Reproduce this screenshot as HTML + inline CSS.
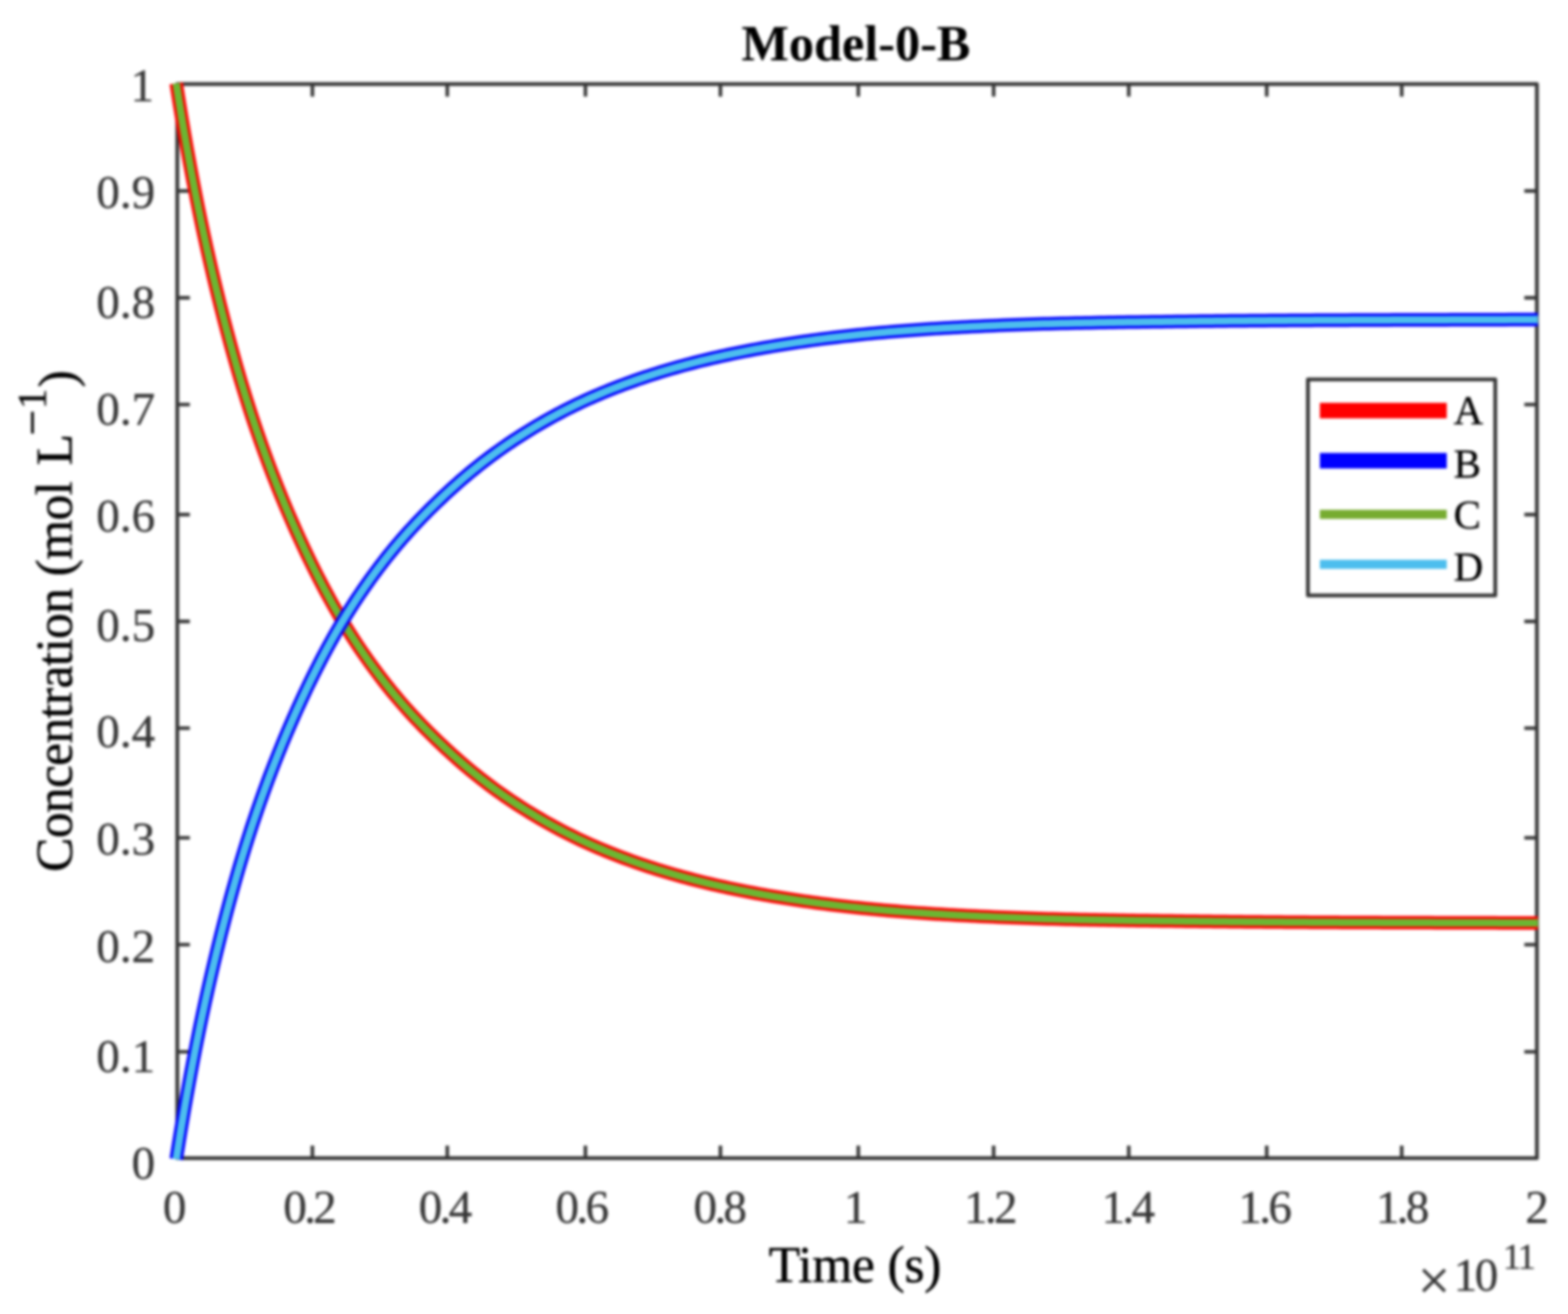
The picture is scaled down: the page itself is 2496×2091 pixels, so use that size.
<!DOCTYPE html>
<html lang="en"><head><meta charset="utf-8"><title>Model-0-B</title>
<style>html,body{margin:0;padding:0;background:#fff}svg{display:block}text{font-family:"Liberation Serif", "DejaVu Serif", serif}</style></head><body>
<svg xmlns="http://www.w3.org/2000/svg" width="2496" height="2091" viewBox="0 0 2496 2091">
<rect width="2496" height="2091" fill="#fff"/>
<defs><filter id="soft" x="0" y="0" width="2496" height="2091" filterUnits="userSpaceOnUse" color-interpolation-filters="sRGB"><feGaussianBlur stdDeviation="2.0"/></filter></defs>
<g id="chart" filter="url(#soft)">
<g fill="none" stroke="#363636" stroke-linejoin="round">
<rect x="282.20" y="133.70" width="2164.30" height="1709.30" stroke-width="6.00"/>
<path d="M497.30,1843.00V1823.00M497.30,133.70V153.70M712.00,1843.00V1823.00M712.00,133.70V153.70M931.90,1843.00V1823.00M931.90,133.70V153.70M1146.80,1843.00V1823.00M1146.80,133.70V153.70M1366.30,1843.00V1823.00M1366.30,133.70V153.70M1581.70,1843.00V1823.00M1581.70,133.70V153.70M1796.80,1843.00V1823.00M1796.80,133.70V153.70M2016.40,1843.00V1823.00M2016.40,133.70V153.70M2231.30,1843.00V1823.00M2231.30,133.70V153.70M282.20,303.90H302.20M2446.50,303.90H2426.50M282.20,473.90H302.20M2446.50,473.90H2426.50M282.20,643.70H302.20M2446.50,643.70H2426.50M282.20,818.90H302.20M2446.50,818.90H2426.50M282.20,988.90H302.20M2446.50,988.90H2426.50M282.20,1158.70H302.20M2446.50,1158.70H2426.50M282.20,1333.30H302.20M2446.50,1333.30H2426.50M282.20,1503.30H302.20M2446.50,1503.30H2426.50M282.20,1673.70H302.20M2446.50,1673.70H2426.50" stroke-width="5.60" stroke-linecap="butt"/>
</g>
<g fill="none" stroke-linejoin="round" stroke-linecap="butt">
<path d="M280.50,132.60 L280.65,133.56 L280.95,135.50 L281.37,138.13 L281.87,141.35 L282.46,145.07 L283.13,149.25 L283.86,153.85 L284.66,158.83 L285.53,164.17 L286.45,169.83 L287.43,175.80 L288.46,182.06 L289.55,188.59 L290.69,195.37 L291.88,202.39 L293.12,209.63 L294.40,217.08 L295.74,224.72 L297.11,232.54 L298.53,240.53 L300.00,248.68 L301.50,256.97 L303.05,265.41 L304.64,273.97 L306.27,282.65 L307.94,291.44 L309.65,300.33 L311.39,309.31 L313.18,318.37 L315.00,327.49 L316.86,336.68 L318.75,345.91 L320.68,355.20 L322.65,364.52 L324.65,373.89 L326.69,383.29 L328.76,392.72 L330.86,402.18 L333.00,411.66 L335.17,421.16 L337.37,430.68 L339.60,440.21 L341.87,449.76 L344.17,459.33 L346.50,468.91 L348.87,478.50 L351.26,488.10 L353.68,497.71 L356.14,507.31 L358.62,516.92 L361.14,526.51 L363.68,536.09 L366.26,545.66 L368.86,555.20 L371.49,564.71 L374.15,574.20 L376.84,583.65 L379.56,593.05 L382.31,602.42 L385.08,611.73 L387.89,620.99 L390.72,630.18 L393.58,639.31 L396.46,648.37 L399.37,657.38 L402.31,666.33 L405.28,675.22 L408.27,684.06 L411.29,692.85 L414.34,701.58 L417.41,710.25 L420.51,718.88 L423.63,727.44 L426.78,735.95 L429.96,744.41 L433.16,752.81 L436.39,761.15 L439.64,769.45 L442.91,777.69 L446.22,785.87 L449.54,794.01 L452.90,802.09 L456.27,810.12 L459.67,818.10 L463.10,826.04 L466.55,833.93 L470.02,841.78 L473.52,849.58 L477.04,857.34 L480.58,865.04 L484.15,872.70 L487.74,880.31 L491.36,887.86 L495.00,895.36 L498.66,902.80 L502.35,910.19 L506.06,917.51 L509.79,924.78 L513.54,931.98 L517.32,939.12 L521.12,946.19 L524.95,953.20 L528.79,960.13 L532.66,966.99 L536.55,973.78 L540.46,980.50 L544.40,987.13 L548.36,993.68 L552.33,1000.16 L556.34,1006.56 L560.36,1012.88 L564.40,1019.13 L568.47,1025.31 L572.56,1031.42 L576.67,1037.46 L580.80,1043.44 L584.95,1049.35 L589.13,1055.20 L593.32,1060.99 L597.54,1066.73 L601.78,1072.41 L606.04,1078.04 L610.32,1083.61 L614.62,1089.11 L618.94,1094.54 L623.28,1099.90 L627.64,1105.20 L632.03,1110.44 L636.43,1115.61 L640.86,1120.72 L645.30,1125.77 L649.77,1130.76 L654.25,1135.70 L658.76,1140.58 L663.29,1145.41 L667.83,1150.19 L672.40,1154.93 L676.99,1159.61 L681.59,1164.25 L686.22,1168.86 L690.87,1173.42 L695.53,1177.94 L700.22,1182.43 L704.93,1186.89 L709.65,1191.32 L714.40,1195.71 L719.16,1200.07 L723.95,1204.37 L728.75,1208.63 L733.57,1212.84 L738.42,1217.00 L743.28,1221.12 L748.16,1225.19 L753.06,1229.21 L757.98,1233.18 L762.92,1237.11 L767.87,1240.99 L772.85,1244.83 L777.85,1248.62 L782.86,1252.36 L787.89,1256.05 L792.94,1259.70 L798.01,1263.30 L803.10,1266.86 L808.21,1270.37 L813.34,1273.83 L818.48,1277.25 L823.65,1280.62 L828.83,1283.95 L834.03,1287.24 L839.25,1290.50 L844.49,1293.72 L849.74,1296.90 L855.01,1300.04 L860.31,1303.14 L865.62,1306.20 L870.95,1309.23 L876.29,1312.21 L881.66,1315.15 L887.04,1318.05 L892.44,1320.91 L897.86,1323.73 L903.29,1326.51 L908.75,1329.24 L914.22,1331.93 L919.71,1334.57 L925.22,1337.17 L930.74,1339.73 L936.28,1342.24 L941.85,1344.71 L947.42,1347.14 L953.02,1349.54 L958.63,1351.90 L964.26,1354.23 L969.91,1356.52 L975.58,1358.77 L981.26,1360.99 L986.96,1363.17 L992.68,1365.32 L998.41,1367.43 L1004.16,1369.52 L1009.93,1371.56 L1015.72,1373.58 L1021.52,1375.56 L1027.34,1377.51 L1033.18,1379.43 L1039.03,1381.31 L1044.91,1383.17 L1050.79,1384.99 L1056.70,1386.78 L1062.62,1388.55 L1068.56,1390.28 L1074.52,1391.98 L1080.49,1393.66 L1086.48,1395.30 L1092.49,1396.92 L1098.51,1398.51 L1104.55,1400.07 L1110.61,1401.60 L1116.68,1403.11 L1122.77,1404.59 L1128.87,1406.04 L1135.00,1407.47 L1141.14,1408.87 L1147.29,1410.24 L1153.46,1411.59 L1159.65,1412.92 L1165.86,1414.22 L1172.08,1415.50 L1178.32,1416.76 L1184.57,1418.00 L1190.84,1419.21 L1197.13,1420.41 L1203.43,1421.58 L1209.75,1422.73 L1216.08,1423.86 L1222.43,1424.97 L1228.80,1426.05 L1235.18,1427.12 L1241.58,1428.17 L1248.00,1429.20 L1254.43,1430.20 L1260.88,1431.19 L1267.34,1432.16 L1273.82,1433.11 L1280.31,1434.05 L1286.82,1434.96 L1293.35,1435.85 L1299.89,1436.73 L1306.45,1437.59 L1313.02,1438.43 L1319.61,1439.25 L1326.22,1440.06 L1332.84,1440.84 L1339.48,1441.61 L1346.13,1442.37 L1352.80,1443.10 L1359.48,1443.82 L1366.18,1444.53 L1372.90,1445.21 L1379.63,1445.88 L1386.37,1446.53 L1393.13,1447.16 L1399.91,1447.77 L1406.70,1448.37 L1413.51,1448.96 L1420.33,1449.52 L1427.17,1450.07 L1434.02,1450.61 L1440.89,1451.13 L1447.78,1451.64 L1454.67,1452.13 L1461.59,1452.61 L1468.52,1453.08 L1475.46,1453.54 L1482.42,1453.98 L1489.40,1454.41 L1496.39,1454.83 L1503.40,1455.24 L1510.42,1455.64 L1517.45,1456.02 L1524.50,1456.40 L1531.57,1456.77 L1538.65,1457.13 L1545.74,1457.48 L1552.85,1457.82 L1559.98,1458.16 L1567.12,1458.49 L1574.28,1458.81 L1581.45,1459.12 L1588.63,1459.42 L1595.83,1459.72 L1603.05,1460.00 L1610.28,1460.28 L1617.52,1460.54 L1624.78,1460.80 L1632.05,1461.04 L1639.34,1461.28 L1646.64,1461.51 L1653.96,1461.73 L1661.29,1461.94 L1668.64,1462.14 L1676.00,1462.34 L1683.38,1462.53 L1690.77,1462.71 L1698.18,1462.89 L1705.60,1463.06 L1713.03,1463.22 L1720.48,1463.38 L1727.94,1463.53 L1735.42,1463.67 L1742.91,1463.82 L1750.42,1463.95 L1757.94,1464.08 L1765.48,1464.21 L1773.03,1464.33 L1780.59,1464.45 L1788.17,1464.57 L1795.76,1464.68 L1803.37,1464.79 L1810.99,1464.90 L1818.63,1465.01 L1826.28,1465.11 L1833.94,1465.21 L1841.62,1465.31 L1849.31,1465.41 L1857.02,1465.51 L1864.74,1465.60 L1872.47,1465.70 L1880.22,1465.79 L1887.99,1465.89 L1895.76,1465.99 L1903.56,1466.08 L1911.36,1466.18 L1919.18,1466.27 L1927.01,1466.36 L1934.86,1466.45 L1942.72,1466.53 L1950.60,1466.61 L1958.49,1466.69 L1966.39,1466.77 L1974.31,1466.84 L1982.24,1466.91 L1990.18,1466.98 L1998.14,1467.05 L2006.12,1467.11 L2014.10,1467.17 L2022.10,1467.23 L2030.12,1467.29 L2038.15,1467.35 L2046.19,1467.40 L2054.24,1467.45 L2062.31,1467.50 L2070.40,1467.55 L2078.49,1467.60 L2086.60,1467.64 L2094.73,1467.69 L2102.86,1467.73 L2111.02,1467.77 L2119.18,1467.81 L2127.36,1467.84 L2135.55,1467.88 L2143.76,1467.92 L2151.98,1467.95 L2160.21,1467.98 L2168.46,1468.02 L2176.72,1468.05 L2184.99,1468.08 L2193.28,1468.10 L2201.58,1468.13 L2209.89,1468.16 L2218.22,1468.19 L2226.56,1468.21 L2234.92,1468.24 L2243.28,1468.26 L2251.67,1468.29 L2260.06,1468.31 L2268.47,1468.33 L2276.89,1468.36 L2285.32,1468.38 L2293.77,1468.40 L2302.23,1468.42 L2310.71,1468.45 L2319.20,1468.47 L2327.70,1468.49 L2336.21,1468.51 L2344.74,1468.53 L2353.28,1468.55 L2361.83,1468.57 L2370.40,1468.60 L2378.98,1468.62 L2387.58,1468.64 L2396.18,1468.66 L2404.80,1468.68 L2413.44,1468.71 L2422.08,1468.73 L2430.74,1468.75 L2439.41,1468.78 L2448.10,1468.80" stroke="#ff0000" stroke-width="21.50"/>
<path d="M280.50,132.60 L280.65,133.56 L280.95,135.50 L281.37,138.13 L281.87,141.35 L282.46,145.07 L283.13,149.25 L283.86,153.85 L284.66,158.83 L285.53,164.17 L286.45,169.83 L287.43,175.80 L288.46,182.06 L289.55,188.59 L290.69,195.37 L291.88,202.39 L293.12,209.63 L294.40,217.08 L295.74,224.72 L297.11,232.54 L298.53,240.53 L300.00,248.68 L301.50,256.97 L303.05,265.41 L304.64,273.97 L306.27,282.65 L307.94,291.44 L309.65,300.33 L311.39,309.31 L313.18,318.37 L315.00,327.49 L316.86,336.68 L318.75,345.91 L320.68,355.20 L322.65,364.52 L324.65,373.89 L326.69,383.29 L328.76,392.72 L330.86,402.18 L333.00,411.66 L335.17,421.16 L337.37,430.68 L339.60,440.21 L341.87,449.76 L344.17,459.33 L346.50,468.91 L348.87,478.50 L351.26,488.10 L353.68,497.71 L356.14,507.31 L358.62,516.92 L361.14,526.51 L363.68,536.09 L366.26,545.66 L368.86,555.20 L371.49,564.71 L374.15,574.20 L376.84,583.65 L379.56,593.05 L382.31,602.42 L385.08,611.73 L387.89,620.99 L390.72,630.18 L393.58,639.31 L396.46,648.37 L399.37,657.38 L402.31,666.33 L405.28,675.22 L408.27,684.06 L411.29,692.85 L414.34,701.58 L417.41,710.25 L420.51,718.88 L423.63,727.44 L426.78,735.95 L429.96,744.41 L433.16,752.81 L436.39,761.15 L439.64,769.45 L442.91,777.69 L446.22,785.87 L449.54,794.01 L452.90,802.09 L456.27,810.12 L459.67,818.10 L463.10,826.04 L466.55,833.93 L470.02,841.78 L473.52,849.58 L477.04,857.34 L480.58,865.04 L484.15,872.70 L487.74,880.31 L491.36,887.86 L495.00,895.36 L498.66,902.80 L502.35,910.19 L506.06,917.51 L509.79,924.78 L513.54,931.98 L517.32,939.12 L521.12,946.19 L524.95,953.20 L528.79,960.13 L532.66,966.99 L536.55,973.78 L540.46,980.50 L544.40,987.13 L548.36,993.68 L552.33,1000.16 L556.34,1006.56 L560.36,1012.88 L564.40,1019.13 L568.47,1025.31 L572.56,1031.42 L576.67,1037.46 L580.80,1043.44 L584.95,1049.35 L589.13,1055.20 L593.32,1060.99 L597.54,1066.73 L601.78,1072.41 L606.04,1078.04 L610.32,1083.61 L614.62,1089.11 L618.94,1094.54 L623.28,1099.90 L627.64,1105.20 L632.03,1110.44 L636.43,1115.61 L640.86,1120.72 L645.30,1125.77 L649.77,1130.76 L654.25,1135.70 L658.76,1140.58 L663.29,1145.41 L667.83,1150.19 L672.40,1154.93 L676.99,1159.61 L681.59,1164.25 L686.22,1168.86 L690.87,1173.42 L695.53,1177.94 L700.22,1182.43 L704.93,1186.89 L709.65,1191.32 L714.40,1195.71 L719.16,1200.07 L723.95,1204.37 L728.75,1208.63 L733.57,1212.84 L738.42,1217.00 L743.28,1221.12 L748.16,1225.19 L753.06,1229.21 L757.98,1233.18 L762.92,1237.11 L767.87,1240.99 L772.85,1244.83 L777.85,1248.62 L782.86,1252.36 L787.89,1256.05 L792.94,1259.70 L798.01,1263.30 L803.10,1266.86 L808.21,1270.37 L813.34,1273.83 L818.48,1277.25 L823.65,1280.62 L828.83,1283.95 L834.03,1287.24 L839.25,1290.50 L844.49,1293.72 L849.74,1296.90 L855.01,1300.04 L860.31,1303.14 L865.62,1306.20 L870.95,1309.23 L876.29,1312.21 L881.66,1315.15 L887.04,1318.05 L892.44,1320.91 L897.86,1323.73 L903.29,1326.51 L908.75,1329.24 L914.22,1331.93 L919.71,1334.57 L925.22,1337.17 L930.74,1339.73 L936.28,1342.24 L941.85,1344.71 L947.42,1347.14 L953.02,1349.54 L958.63,1351.90 L964.26,1354.23 L969.91,1356.52 L975.58,1358.77 L981.26,1360.99 L986.96,1363.17 L992.68,1365.32 L998.41,1367.43 L1004.16,1369.52 L1009.93,1371.56 L1015.72,1373.58 L1021.52,1375.56 L1027.34,1377.51 L1033.18,1379.43 L1039.03,1381.31 L1044.91,1383.17 L1050.79,1384.99 L1056.70,1386.78 L1062.62,1388.55 L1068.56,1390.28 L1074.52,1391.98 L1080.49,1393.66 L1086.48,1395.30 L1092.49,1396.92 L1098.51,1398.51 L1104.55,1400.07 L1110.61,1401.60 L1116.68,1403.11 L1122.77,1404.59 L1128.87,1406.04 L1135.00,1407.47 L1141.14,1408.87 L1147.29,1410.24 L1153.46,1411.59 L1159.65,1412.92 L1165.86,1414.22 L1172.08,1415.50 L1178.32,1416.76 L1184.57,1418.00 L1190.84,1419.21 L1197.13,1420.41 L1203.43,1421.58 L1209.75,1422.73 L1216.08,1423.86 L1222.43,1424.97 L1228.80,1426.05 L1235.18,1427.12 L1241.58,1428.17 L1248.00,1429.20 L1254.43,1430.20 L1260.88,1431.19 L1267.34,1432.16 L1273.82,1433.11 L1280.31,1434.05 L1286.82,1434.96 L1293.35,1435.85 L1299.89,1436.73 L1306.45,1437.59 L1313.02,1438.43 L1319.61,1439.25 L1326.22,1440.06 L1332.84,1440.84 L1339.48,1441.61 L1346.13,1442.37 L1352.80,1443.10 L1359.48,1443.82 L1366.18,1444.53 L1372.90,1445.21 L1379.63,1445.88 L1386.37,1446.53 L1393.13,1447.16 L1399.91,1447.77 L1406.70,1448.37 L1413.51,1448.96 L1420.33,1449.52 L1427.17,1450.07 L1434.02,1450.61 L1440.89,1451.13 L1447.78,1451.64 L1454.67,1452.13 L1461.59,1452.61 L1468.52,1453.08 L1475.46,1453.54 L1482.42,1453.98 L1489.40,1454.41 L1496.39,1454.83 L1503.40,1455.24 L1510.42,1455.64 L1517.45,1456.02 L1524.50,1456.40 L1531.57,1456.77 L1538.65,1457.13 L1545.74,1457.48 L1552.85,1457.82 L1559.98,1458.16 L1567.12,1458.49 L1574.28,1458.81 L1581.45,1459.12 L1588.63,1459.42 L1595.83,1459.72 L1603.05,1460.00 L1610.28,1460.28 L1617.52,1460.54 L1624.78,1460.80 L1632.05,1461.04 L1639.34,1461.28 L1646.64,1461.51 L1653.96,1461.73 L1661.29,1461.94 L1668.64,1462.14 L1676.00,1462.34 L1683.38,1462.53 L1690.77,1462.71 L1698.18,1462.89 L1705.60,1463.06 L1713.03,1463.22 L1720.48,1463.38 L1727.94,1463.53 L1735.42,1463.67 L1742.91,1463.82 L1750.42,1463.95 L1757.94,1464.08 L1765.48,1464.21 L1773.03,1464.33 L1780.59,1464.45 L1788.17,1464.57 L1795.76,1464.68 L1803.37,1464.79 L1810.99,1464.90 L1818.63,1465.01 L1826.28,1465.11 L1833.94,1465.21 L1841.62,1465.31 L1849.31,1465.41 L1857.02,1465.51 L1864.74,1465.60 L1872.47,1465.70 L1880.22,1465.79 L1887.99,1465.89 L1895.76,1465.99 L1903.56,1466.08 L1911.36,1466.18 L1919.18,1466.27 L1927.01,1466.36 L1934.86,1466.45 L1942.72,1466.53 L1950.60,1466.61 L1958.49,1466.69 L1966.39,1466.77 L1974.31,1466.84 L1982.24,1466.91 L1990.18,1466.98 L1998.14,1467.05 L2006.12,1467.11 L2014.10,1467.17 L2022.10,1467.23 L2030.12,1467.29 L2038.15,1467.35 L2046.19,1467.40 L2054.24,1467.45 L2062.31,1467.50 L2070.40,1467.55 L2078.49,1467.60 L2086.60,1467.64 L2094.73,1467.69 L2102.86,1467.73 L2111.02,1467.77 L2119.18,1467.81 L2127.36,1467.84 L2135.55,1467.88 L2143.76,1467.92 L2151.98,1467.95 L2160.21,1467.98 L2168.46,1468.02 L2176.72,1468.05 L2184.99,1468.08 L2193.28,1468.10 L2201.58,1468.13 L2209.89,1468.16 L2218.22,1468.19 L2226.56,1468.21 L2234.92,1468.24 L2243.28,1468.26 L2251.67,1468.29 L2260.06,1468.31 L2268.47,1468.33 L2276.89,1468.36 L2285.32,1468.38 L2293.77,1468.40 L2302.23,1468.42 L2310.71,1468.45 L2319.20,1468.47 L2327.70,1468.49 L2336.21,1468.51 L2344.74,1468.53 L2353.28,1468.55 L2361.83,1468.57 L2370.40,1468.60 L2378.98,1468.62 L2387.58,1468.64 L2396.18,1468.66 L2404.80,1468.68 L2413.44,1468.71 L2422.08,1468.73 L2430.74,1468.75 L2439.41,1468.78 L2448.10,1468.80" stroke="#6cb632" stroke-width="12.00"/>
<path d="M280.50,1844.70 L280.65,1843.74 L280.95,1841.80 L281.37,1839.17 L281.87,1835.95 L282.46,1832.23 L283.13,1828.05 L283.86,1823.45 L284.66,1818.47 L285.53,1813.13 L286.45,1807.47 L287.43,1801.50 L288.46,1795.24 L289.55,1788.71 L290.69,1781.93 L291.88,1774.91 L293.12,1767.67 L294.40,1760.22 L295.74,1752.58 L297.11,1744.76 L298.53,1736.77 L300.00,1728.62 L301.50,1720.33 L303.05,1711.89 L304.64,1703.33 L306.27,1694.65 L307.94,1685.86 L309.65,1676.97 L311.39,1667.99 L313.18,1658.93 L315.00,1649.81 L316.86,1640.62 L318.75,1631.39 L320.68,1622.10 L322.65,1612.78 L324.65,1603.41 L326.69,1594.01 L328.76,1584.58 L330.86,1575.12 L333.00,1565.64 L335.17,1556.14 L337.37,1546.62 L339.60,1537.09 L341.87,1527.54 L344.17,1517.97 L346.50,1508.39 L348.87,1498.80 L351.26,1489.20 L353.68,1479.59 L356.14,1469.99 L358.62,1460.38 L361.14,1450.79 L363.68,1441.21 L366.26,1431.64 L368.86,1422.10 L371.49,1412.59 L374.15,1403.10 L376.84,1393.65 L379.56,1384.25 L382.31,1374.88 L385.08,1365.57 L387.89,1356.31 L390.72,1347.12 L393.58,1337.99 L396.46,1328.93 L399.37,1319.92 L402.31,1310.97 L405.28,1302.08 L408.27,1293.24 L411.29,1284.45 L414.34,1275.72 L417.41,1267.05 L420.51,1258.42 L423.63,1249.86 L426.78,1241.35 L429.96,1232.89 L433.16,1224.49 L436.39,1216.15 L439.64,1207.85 L442.91,1199.61 L446.22,1191.43 L449.54,1183.29 L452.90,1175.21 L456.27,1167.18 L459.67,1159.20 L463.10,1151.26 L466.55,1143.37 L470.02,1135.52 L473.52,1127.72 L477.04,1119.96 L480.58,1112.26 L484.15,1104.60 L487.74,1096.99 L491.36,1089.44 L495.00,1081.94 L498.66,1074.50 L502.35,1067.11 L506.06,1059.79 L509.79,1052.52 L513.54,1045.32 L517.32,1038.18 L521.12,1031.11 L524.95,1024.10 L528.79,1017.17 L532.66,1010.31 L536.55,1003.52 L540.46,996.80 L544.40,990.17 L548.36,983.62 L552.33,977.14 L556.34,970.74 L560.36,964.42 L564.40,958.17 L568.47,951.99 L572.56,945.88 L576.67,939.84 L580.80,933.86 L584.95,927.95 L589.13,922.10 L593.32,916.31 L597.54,910.57 L601.78,904.89 L606.04,899.26 L610.32,893.69 L614.62,888.19 L618.94,882.76 L623.28,877.40 L627.64,872.10 L632.03,866.86 L636.43,861.69 L640.86,856.58 L645.30,851.53 L649.77,846.54 L654.25,841.60 L658.76,836.72 L663.29,831.89 L667.83,827.11 L672.40,822.37 L676.99,817.69 L681.59,813.05 L686.22,808.44 L690.87,803.88 L695.53,799.36 L700.22,794.87 L704.93,790.41 L709.65,785.98 L714.40,781.59 L719.16,777.23 L723.95,772.93 L728.75,768.67 L733.57,764.46 L738.42,760.30 L743.28,756.18 L748.16,752.11 L753.06,748.09 L757.98,744.12 L762.92,740.19 L767.87,736.31 L772.85,732.47 L777.85,728.68 L782.86,724.94 L787.89,721.25 L792.94,717.60 L798.01,714.00 L803.10,710.44 L808.21,706.93 L813.34,703.47 L818.48,700.05 L823.65,696.68 L828.83,693.35 L834.03,690.06 L839.25,686.80 L844.49,683.58 L849.74,680.40 L855.01,677.26 L860.31,674.16 L865.62,671.10 L870.95,668.07 L876.29,665.09 L881.66,662.15 L887.04,659.25 L892.44,656.39 L897.86,653.57 L903.29,650.79 L908.75,648.06 L914.22,645.37 L919.71,642.73 L925.22,640.13 L930.74,637.57 L936.28,635.06 L941.85,632.59 L947.42,630.16 L953.02,627.76 L958.63,625.40 L964.26,623.07 L969.91,620.78 L975.58,618.53 L981.26,616.31 L986.96,614.13 L992.68,611.98 L998.41,609.87 L1004.16,607.78 L1009.93,605.74 L1015.72,603.72 L1021.52,601.74 L1027.34,599.79 L1033.18,597.87 L1039.03,595.99 L1044.91,594.13 L1050.79,592.31 L1056.70,590.52 L1062.62,588.75 L1068.56,587.02 L1074.52,585.32 L1080.49,583.64 L1086.48,582.00 L1092.49,580.38 L1098.51,578.79 L1104.55,577.23 L1110.61,575.70 L1116.68,574.19 L1122.77,572.71 L1128.87,571.26 L1135.00,569.83 L1141.14,568.43 L1147.29,567.06 L1153.46,565.71 L1159.65,564.38 L1165.86,563.08 L1172.08,561.80 L1178.32,560.54 L1184.57,559.30 L1190.84,558.09 L1197.13,556.89 L1203.43,555.72 L1209.75,554.57 L1216.08,553.44 L1222.43,552.33 L1228.80,551.25 L1235.18,550.18 L1241.58,549.13 L1248.00,548.10 L1254.43,547.10 L1260.88,546.11 L1267.34,545.14 L1273.82,544.19 L1280.31,543.25 L1286.82,542.34 L1293.35,541.45 L1299.89,540.57 L1306.45,539.71 L1313.02,538.87 L1319.61,538.05 L1326.22,537.24 L1332.84,536.46 L1339.48,535.69 L1346.13,534.93 L1352.80,534.20 L1359.48,533.48 L1366.18,532.77 L1372.90,532.09 L1379.63,531.42 L1386.37,530.77 L1393.13,530.14 L1399.91,529.53 L1406.70,528.93 L1413.51,528.34 L1420.33,527.78 L1427.17,527.23 L1434.02,526.69 L1440.89,526.17 L1447.78,525.66 L1454.67,525.17 L1461.59,524.69 L1468.52,524.22 L1475.46,523.76 L1482.42,523.32 L1489.40,522.89 L1496.39,522.47 L1503.40,522.06 L1510.42,521.66 L1517.45,521.28 L1524.50,520.90 L1531.57,520.53 L1538.65,520.17 L1545.74,519.82 L1552.85,519.48 L1559.98,519.14 L1567.12,518.81 L1574.28,518.49 L1581.45,518.18 L1588.63,517.88 L1595.83,517.58 L1603.05,517.30 L1610.28,517.02 L1617.52,516.76 L1624.78,516.50 L1632.05,516.26 L1639.34,516.02 L1646.64,515.79 L1653.96,515.57 L1661.29,515.36 L1668.64,515.16 L1676.00,514.96 L1683.38,514.77 L1690.77,514.59 L1698.18,514.41 L1705.60,514.24 L1713.03,514.08 L1720.48,513.92 L1727.94,513.77 L1735.42,513.63 L1742.91,513.48 L1750.42,513.35 L1757.94,513.22 L1765.48,513.09 L1773.03,512.97 L1780.59,512.85 L1788.17,512.73 L1795.76,512.62 L1803.37,512.51 L1810.99,512.40 L1818.63,512.29 L1826.28,512.19 L1833.94,512.09 L1841.62,511.99 L1849.31,511.89 L1857.02,511.79 L1864.74,511.70 L1872.47,511.60 L1880.22,511.51 L1887.99,511.41 L1895.76,511.31 L1903.56,511.22 L1911.36,511.12 L1919.18,511.03 L1927.01,510.94 L1934.86,510.85 L1942.72,510.77 L1950.60,510.69 L1958.49,510.61 L1966.39,510.53 L1974.31,510.46 L1982.24,510.39 L1990.18,510.32 L1998.14,510.25 L2006.12,510.19 L2014.10,510.13 L2022.10,510.07 L2030.12,510.01 L2038.15,509.95 L2046.19,509.90 L2054.24,509.85 L2062.31,509.80 L2070.40,509.75 L2078.49,509.70 L2086.60,509.66 L2094.73,509.61 L2102.86,509.57 L2111.02,509.53 L2119.18,509.49 L2127.36,509.46 L2135.55,509.42 L2143.76,509.38 L2151.98,509.35 L2160.21,509.32 L2168.46,509.28 L2176.72,509.25 L2184.99,509.22 L2193.28,509.20 L2201.58,509.17 L2209.89,509.14 L2218.22,509.11 L2226.56,509.09 L2234.92,509.06 L2243.28,509.04 L2251.67,509.01 L2260.06,508.99 L2268.47,508.97 L2276.89,508.94 L2285.32,508.92 L2293.77,508.90 L2302.23,508.88 L2310.71,508.85 L2319.20,508.83 L2327.70,508.81 L2336.21,508.79 L2344.74,508.77 L2353.28,508.75 L2361.83,508.73 L2370.40,508.70 L2378.98,508.68 L2387.58,508.66 L2396.18,508.64 L2404.80,508.62 L2413.44,508.59 L2422.08,508.57 L2430.74,508.55 L2439.41,508.52 L2448.10,508.50" stroke="#0000ff" stroke-width="21.50"/>
<path d="M280.50,1844.70 L280.65,1843.74 L280.95,1841.80 L281.37,1839.17 L281.87,1835.95 L282.46,1832.23 L283.13,1828.05 L283.86,1823.45 L284.66,1818.47 L285.53,1813.13 L286.45,1807.47 L287.43,1801.50 L288.46,1795.24 L289.55,1788.71 L290.69,1781.93 L291.88,1774.91 L293.12,1767.67 L294.40,1760.22 L295.74,1752.58 L297.11,1744.76 L298.53,1736.77 L300.00,1728.62 L301.50,1720.33 L303.05,1711.89 L304.64,1703.33 L306.27,1694.65 L307.94,1685.86 L309.65,1676.97 L311.39,1667.99 L313.18,1658.93 L315.00,1649.81 L316.86,1640.62 L318.75,1631.39 L320.68,1622.10 L322.65,1612.78 L324.65,1603.41 L326.69,1594.01 L328.76,1584.58 L330.86,1575.12 L333.00,1565.64 L335.17,1556.14 L337.37,1546.62 L339.60,1537.09 L341.87,1527.54 L344.17,1517.97 L346.50,1508.39 L348.87,1498.80 L351.26,1489.20 L353.68,1479.59 L356.14,1469.99 L358.62,1460.38 L361.14,1450.79 L363.68,1441.21 L366.26,1431.64 L368.86,1422.10 L371.49,1412.59 L374.15,1403.10 L376.84,1393.65 L379.56,1384.25 L382.31,1374.88 L385.08,1365.57 L387.89,1356.31 L390.72,1347.12 L393.58,1337.99 L396.46,1328.93 L399.37,1319.92 L402.31,1310.97 L405.28,1302.08 L408.27,1293.24 L411.29,1284.45 L414.34,1275.72 L417.41,1267.05 L420.51,1258.42 L423.63,1249.86 L426.78,1241.35 L429.96,1232.89 L433.16,1224.49 L436.39,1216.15 L439.64,1207.85 L442.91,1199.61 L446.22,1191.43 L449.54,1183.29 L452.90,1175.21 L456.27,1167.18 L459.67,1159.20 L463.10,1151.26 L466.55,1143.37 L470.02,1135.52 L473.52,1127.72 L477.04,1119.96 L480.58,1112.26 L484.15,1104.60 L487.74,1096.99 L491.36,1089.44 L495.00,1081.94 L498.66,1074.50 L502.35,1067.11 L506.06,1059.79 L509.79,1052.52 L513.54,1045.32 L517.32,1038.18 L521.12,1031.11 L524.95,1024.10 L528.79,1017.17 L532.66,1010.31 L536.55,1003.52 L540.46,996.80 L544.40,990.17 L548.36,983.62 L552.33,977.14 L556.34,970.74 L560.36,964.42 L564.40,958.17 L568.47,951.99 L572.56,945.88 L576.67,939.84 L580.80,933.86 L584.95,927.95 L589.13,922.10 L593.32,916.31 L597.54,910.57 L601.78,904.89 L606.04,899.26 L610.32,893.69 L614.62,888.19 L618.94,882.76 L623.28,877.40 L627.64,872.10 L632.03,866.86 L636.43,861.69 L640.86,856.58 L645.30,851.53 L649.77,846.54 L654.25,841.60 L658.76,836.72 L663.29,831.89 L667.83,827.11 L672.40,822.37 L676.99,817.69 L681.59,813.05 L686.22,808.44 L690.87,803.88 L695.53,799.36 L700.22,794.87 L704.93,790.41 L709.65,785.98 L714.40,781.59 L719.16,777.23 L723.95,772.93 L728.75,768.67 L733.57,764.46 L738.42,760.30 L743.28,756.18 L748.16,752.11 L753.06,748.09 L757.98,744.12 L762.92,740.19 L767.87,736.31 L772.85,732.47 L777.85,728.68 L782.86,724.94 L787.89,721.25 L792.94,717.60 L798.01,714.00 L803.10,710.44 L808.21,706.93 L813.34,703.47 L818.48,700.05 L823.65,696.68 L828.83,693.35 L834.03,690.06 L839.25,686.80 L844.49,683.58 L849.74,680.40 L855.01,677.26 L860.31,674.16 L865.62,671.10 L870.95,668.07 L876.29,665.09 L881.66,662.15 L887.04,659.25 L892.44,656.39 L897.86,653.57 L903.29,650.79 L908.75,648.06 L914.22,645.37 L919.71,642.73 L925.22,640.13 L930.74,637.57 L936.28,635.06 L941.85,632.59 L947.42,630.16 L953.02,627.76 L958.63,625.40 L964.26,623.07 L969.91,620.78 L975.58,618.53 L981.26,616.31 L986.96,614.13 L992.68,611.98 L998.41,609.87 L1004.16,607.78 L1009.93,605.74 L1015.72,603.72 L1021.52,601.74 L1027.34,599.79 L1033.18,597.87 L1039.03,595.99 L1044.91,594.13 L1050.79,592.31 L1056.70,590.52 L1062.62,588.75 L1068.56,587.02 L1074.52,585.32 L1080.49,583.64 L1086.48,582.00 L1092.49,580.38 L1098.51,578.79 L1104.55,577.23 L1110.61,575.70 L1116.68,574.19 L1122.77,572.71 L1128.87,571.26 L1135.00,569.83 L1141.14,568.43 L1147.29,567.06 L1153.46,565.71 L1159.65,564.38 L1165.86,563.08 L1172.08,561.80 L1178.32,560.54 L1184.57,559.30 L1190.84,558.09 L1197.13,556.89 L1203.43,555.72 L1209.75,554.57 L1216.08,553.44 L1222.43,552.33 L1228.80,551.25 L1235.18,550.18 L1241.58,549.13 L1248.00,548.10 L1254.43,547.10 L1260.88,546.11 L1267.34,545.14 L1273.82,544.19 L1280.31,543.25 L1286.82,542.34 L1293.35,541.45 L1299.89,540.57 L1306.45,539.71 L1313.02,538.87 L1319.61,538.05 L1326.22,537.24 L1332.84,536.46 L1339.48,535.69 L1346.13,534.93 L1352.80,534.20 L1359.48,533.48 L1366.18,532.77 L1372.90,532.09 L1379.63,531.42 L1386.37,530.77 L1393.13,530.14 L1399.91,529.53 L1406.70,528.93 L1413.51,528.34 L1420.33,527.78 L1427.17,527.23 L1434.02,526.69 L1440.89,526.17 L1447.78,525.66 L1454.67,525.17 L1461.59,524.69 L1468.52,524.22 L1475.46,523.76 L1482.42,523.32 L1489.40,522.89 L1496.39,522.47 L1503.40,522.06 L1510.42,521.66 L1517.45,521.28 L1524.50,520.90 L1531.57,520.53 L1538.65,520.17 L1545.74,519.82 L1552.85,519.48 L1559.98,519.14 L1567.12,518.81 L1574.28,518.49 L1581.45,518.18 L1588.63,517.88 L1595.83,517.58 L1603.05,517.30 L1610.28,517.02 L1617.52,516.76 L1624.78,516.50 L1632.05,516.26 L1639.34,516.02 L1646.64,515.79 L1653.96,515.57 L1661.29,515.36 L1668.64,515.16 L1676.00,514.96 L1683.38,514.77 L1690.77,514.59 L1698.18,514.41 L1705.60,514.24 L1713.03,514.08 L1720.48,513.92 L1727.94,513.77 L1735.42,513.63 L1742.91,513.48 L1750.42,513.35 L1757.94,513.22 L1765.48,513.09 L1773.03,512.97 L1780.59,512.85 L1788.17,512.73 L1795.76,512.62 L1803.37,512.51 L1810.99,512.40 L1818.63,512.29 L1826.28,512.19 L1833.94,512.09 L1841.62,511.99 L1849.31,511.89 L1857.02,511.79 L1864.74,511.70 L1872.47,511.60 L1880.22,511.51 L1887.99,511.41 L1895.76,511.31 L1903.56,511.22 L1911.36,511.12 L1919.18,511.03 L1927.01,510.94 L1934.86,510.85 L1942.72,510.77 L1950.60,510.69 L1958.49,510.61 L1966.39,510.53 L1974.31,510.46 L1982.24,510.39 L1990.18,510.32 L1998.14,510.25 L2006.12,510.19 L2014.10,510.13 L2022.10,510.07 L2030.12,510.01 L2038.15,509.95 L2046.19,509.90 L2054.24,509.85 L2062.31,509.80 L2070.40,509.75 L2078.49,509.70 L2086.60,509.66 L2094.73,509.61 L2102.86,509.57 L2111.02,509.53 L2119.18,509.49 L2127.36,509.46 L2135.55,509.42 L2143.76,509.38 L2151.98,509.35 L2160.21,509.32 L2168.46,509.28 L2176.72,509.25 L2184.99,509.22 L2193.28,509.20 L2201.58,509.17 L2209.89,509.14 L2218.22,509.11 L2226.56,509.09 L2234.92,509.06 L2243.28,509.04 L2251.67,509.01 L2260.06,508.99 L2268.47,508.97 L2276.89,508.94 L2285.32,508.92 L2293.77,508.90 L2302.23,508.88 L2310.71,508.85 L2319.20,508.83 L2327.70,508.81 L2336.21,508.79 L2344.74,508.77 L2353.28,508.75 L2361.83,508.73 L2370.40,508.70 L2378.98,508.68 L2387.58,508.66 L2396.18,508.64 L2404.80,508.62 L2413.44,508.59 L2422.08,508.57 L2430.74,508.55 L2439.41,508.52 L2448.10,508.50" stroke="#4dbeee" stroke-width="12.00"/>
</g>
<g font-size="75" fill="#363636" stroke="#363636" stroke-width="0.5" stroke-linejoin="round">
<text x="245.3" y="160.7" text-anchor="end">1</text>
<text x="247.0" y="330.9" text-anchor="end">0.9</text>
<text x="247.0" y="505.7" text-anchor="end">0.8</text>
<text x="247.0" y="675.5" text-anchor="end">0.7</text>
<text x="247.0" y="845.9" text-anchor="end">0.6</text>
<text x="247.0" y="1020.1" text-anchor="end">0.5</text>
<text x="247.0" y="1189.2" text-anchor="end">0.4</text>
<text x="247.0" y="1360.3" text-anchor="end">0.3</text>
<text x="247.0" y="1531.3" text-anchor="end">0.2</text>
<text x="247.0" y="1705.9" text-anchor="end">0.1</text>
<text x="247.0" y="1876.0" text-anchor="end">0</text>
<text x="278.00" y="1946.0" text-anchor="middle">0</text>
<text x="531.80" y="1946.0" text-anchor="end" letter-spacing="-4.3">0.2</text>
<text x="747.40" y="1946.0" text-anchor="end" letter-spacing="-4.3">0.4</text>
<text x="965.20" y="1946.0" text-anchor="end" letter-spacing="-4.3">0.6</text>
<text x="1184.80" y="1946.0" text-anchor="end" letter-spacing="-4.3">0.8</text>
<text x="1361.90" y="1946.0" text-anchor="middle">1</text>
<text x="1615.40" y="1946.0" text-anchor="end" letter-spacing="-4.3">1.2</text>
<text x="1834.40" y="1946.0" text-anchor="end" letter-spacing="-4.3">1.4</text>
<text x="2052.20" y="1946.0" text-anchor="end" letter-spacing="-4.3">1.6</text>
<text x="2271.00" y="1946.0" text-anchor="end" letter-spacing="-4.3">1.8</text>
<text x="2446.70" y="1946.0" text-anchor="middle">2</text>
<text><tspan x="2282.75" y="2067.85" font-size="92" text-anchor="middle">×</tspan><tspan x="2381.00" y="2054.30" text-anchor="end" letter-spacing="-4">10</tspan><tspan x="2441.20" y="2018.80" font-size="58" text-anchor="end" letter-spacing="-3.5">11</tspan></text>
</g>
<g font-size="82" fill="#000000" stroke="#000000" stroke-width="0.7" stroke-linejoin="round">
<text x="1360.90" y="2039.70" text-anchor="middle" letter-spacing="-0.30">Time (s)</text>
<text transform="translate(114.00,1389.00) rotate(-90)"><tspan x="1.50" y="0.00" letter-spacing="-1.06">Concentration (mol </tspan><tspan x="648.40" y="0.00">L</tspan><tspan x="695.40" y="-38.20" font-size="73">−</tspan><tspan x="738.00" y="-41.20" font-size="65">1</tspan><tspan x="772.60" y="3.50">)</tspan></text>
</g>
<text x="1362.50" y="95.60" font-size="80" font-weight="bold" fill="#000" text-anchor="middle">Model-0-B</text>
<g id="legend">
<rect x="2082.0" y="603.8" width="298.2" height="343.7" fill="#fff" stroke="#363636" stroke-width="6" stroke-linejoin="round"/>
<line x1="2101" x2="2303" y1="653.4" y2="653.4" stroke="#ff0000" stroke-width="24.9"/>
<text x="2314" y="675.4" font-size="65" fill="#000" stroke="#000" stroke-width="0.5">A</text>
<line x1="2101" x2="2303" y1="733.1" y2="733.1" stroke="#0000ff" stroke-width="24.9"/>
<text x="2314" y="759.6" font-size="65" fill="#000" stroke="#000" stroke-width="0.5">B</text>
<line x1="2101" x2="2303" y1="818.4" y2="818.4" stroke="#77ac30" stroke-width="14.5"/>
<text x="2314" y="840.9" font-size="65" fill="#000" stroke="#000" stroke-width="0.5">C</text>
<line x1="2101" x2="2303" y1="898.1" y2="898.1" stroke="#4dbeee" stroke-width="14.5"/>
<text x="2314" y="924.1" font-size="65" fill="#000" stroke="#000" stroke-width="0.5">D</text>
</g>
</g></svg></body></html>
